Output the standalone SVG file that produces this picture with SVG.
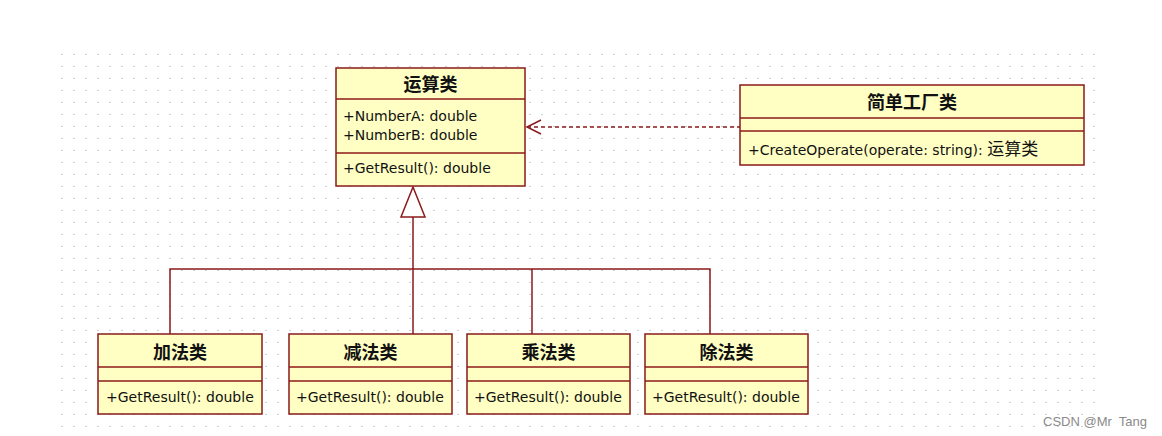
<svg xmlns="http://www.w3.org/2000/svg" width="1162" height="436" viewBox="0 0 1162 436">
<defs>
<pattern id="dots" x="61" y="54" width="12" height="12" patternUnits="userSpaceOnUse">
<rect x="0" y="0" width="2" height="1" fill="#cfcfcf"/>
</pattern>
<style>
.box{fill:#FFFFC4;stroke:#8B1A1A;stroke-width:1.5}
.div{stroke:#8B1A1A;stroke-width:1.5}
.title{font-family:"Noto Sans CJK SC","DejaVu Sans",sans-serif;font-weight:bold;font-size:18px;fill:#111;text-anchor:middle}
.t{font-family:"DejaVu Sans","Noto Sans CJK SC",sans-serif;font-size:14px;fill:#111}
.cjk{font-family:"Noto Sans CJK SC",sans-serif;font-size:17px}
.conn{stroke:#8B1A1A;stroke-width:1.5;fill:none}
</style>
</defs>
<rect width="1162" height="436" fill="#ffffff"/>
<rect x="60" y="53" width="1040" height="383" fill="url(#dots)"/>

<g id="connectors">
<polyline class="conn" points="170,334 170,269 710,269 710,334"/>
<line class="conn" x1="413" y1="217" x2="413" y2="334"/>
<line class="conn" x1="532" y1="269" x2="532" y2="334"/>
<polygon points="413,187 401,217 425,217" fill="#ffffff" stroke="#8B1A1A" stroke-width="1.5"/>
<line class="conn" x1="527" y1="127" x2="740" y2="127" stroke-dasharray="4,3"/>
<polyline class="conn" points="541,120 527,127 541,134"/>
</g>

<g id="node-yunsuan">
<rect class="box" x="336" y="68" width="189" height="118"/>
<line class="div" x1="336" y1="99" x2="525" y2="99"/>
<line class="div" x1="336" y1="153" x2="525" y2="153"/>
<text class="title" x="430.5" y="91">运算类</text>
<text class="t" x="343" y="121">+NumberA: double</text>
<text class="t" x="343" y="140">+NumberB: double</text>
<text class="t" x="343" y="173">+GetResult(): double</text>
</g>

<g id="node-factory">
<rect class="box" x="740" y="85" width="344" height="80"/>
<line class="div" x1="740" y1="118" x2="1084" y2="118"/>
<line class="div" x1="740" y1="131" x2="1084" y2="131"/>
<text class="title" x="912" y="109">简单工厂类</text>
<text class="t" x="748" y="155">+CreateOperate(operate: string): <tspan class="cjk">运算类</tspan></text>
</g>

<g id="node-add">
<rect class="box" x="98" y="334" width="164" height="80"/>
<line class="div" x1="98" y1="367" x2="262" y2="367"/>
<line class="div" x1="98" y1="381" x2="262" y2="381"/>
<text class="title" x="180" y="359">加法类</text>
<text class="t" x="106" y="402">+GetResult(): double</text>
</g>

<g id="node-sub">
<rect class="box" x="289" y="334" width="163" height="80"/>
<line class="div" x1="289" y1="367" x2="452" y2="367"/>
<line class="div" x1="289" y1="381" x2="452" y2="381"/>
<text class="title" x="370.5" y="359">减法类</text>
<text class="t" x="296" y="402">+GetResult(): double</text>
</g>

<g id="node-mul">
<rect class="box" x="467" y="334" width="163" height="80"/>
<line class="div" x1="467" y1="367" x2="630" y2="367"/>
<line class="div" x1="467" y1="381" x2="630" y2="381"/>
<text class="title" x="548.5" y="359">乘法类</text>
<text class="t" x="474" y="402">+GetResult(): double</text>
</g>

<g id="node-div">
<rect class="box" x="645" y="334" width="163" height="80"/>
<line class="div" x1="645" y1="367" x2="808" y2="367"/>
<line class="div" x1="645" y1="381" x2="808" y2="381"/>
<text class="title" x="726.5" y="359">除法类</text>
<text class="t" x="652" y="402">+GetResult(): double</text>
</g>

<text x="1043" y="426" font-family="'Liberation Sans',sans-serif" font-size="13" fill="#8a8a8a" xml:space="preserve">CSDN @Mr  Tang</text>
</svg>
